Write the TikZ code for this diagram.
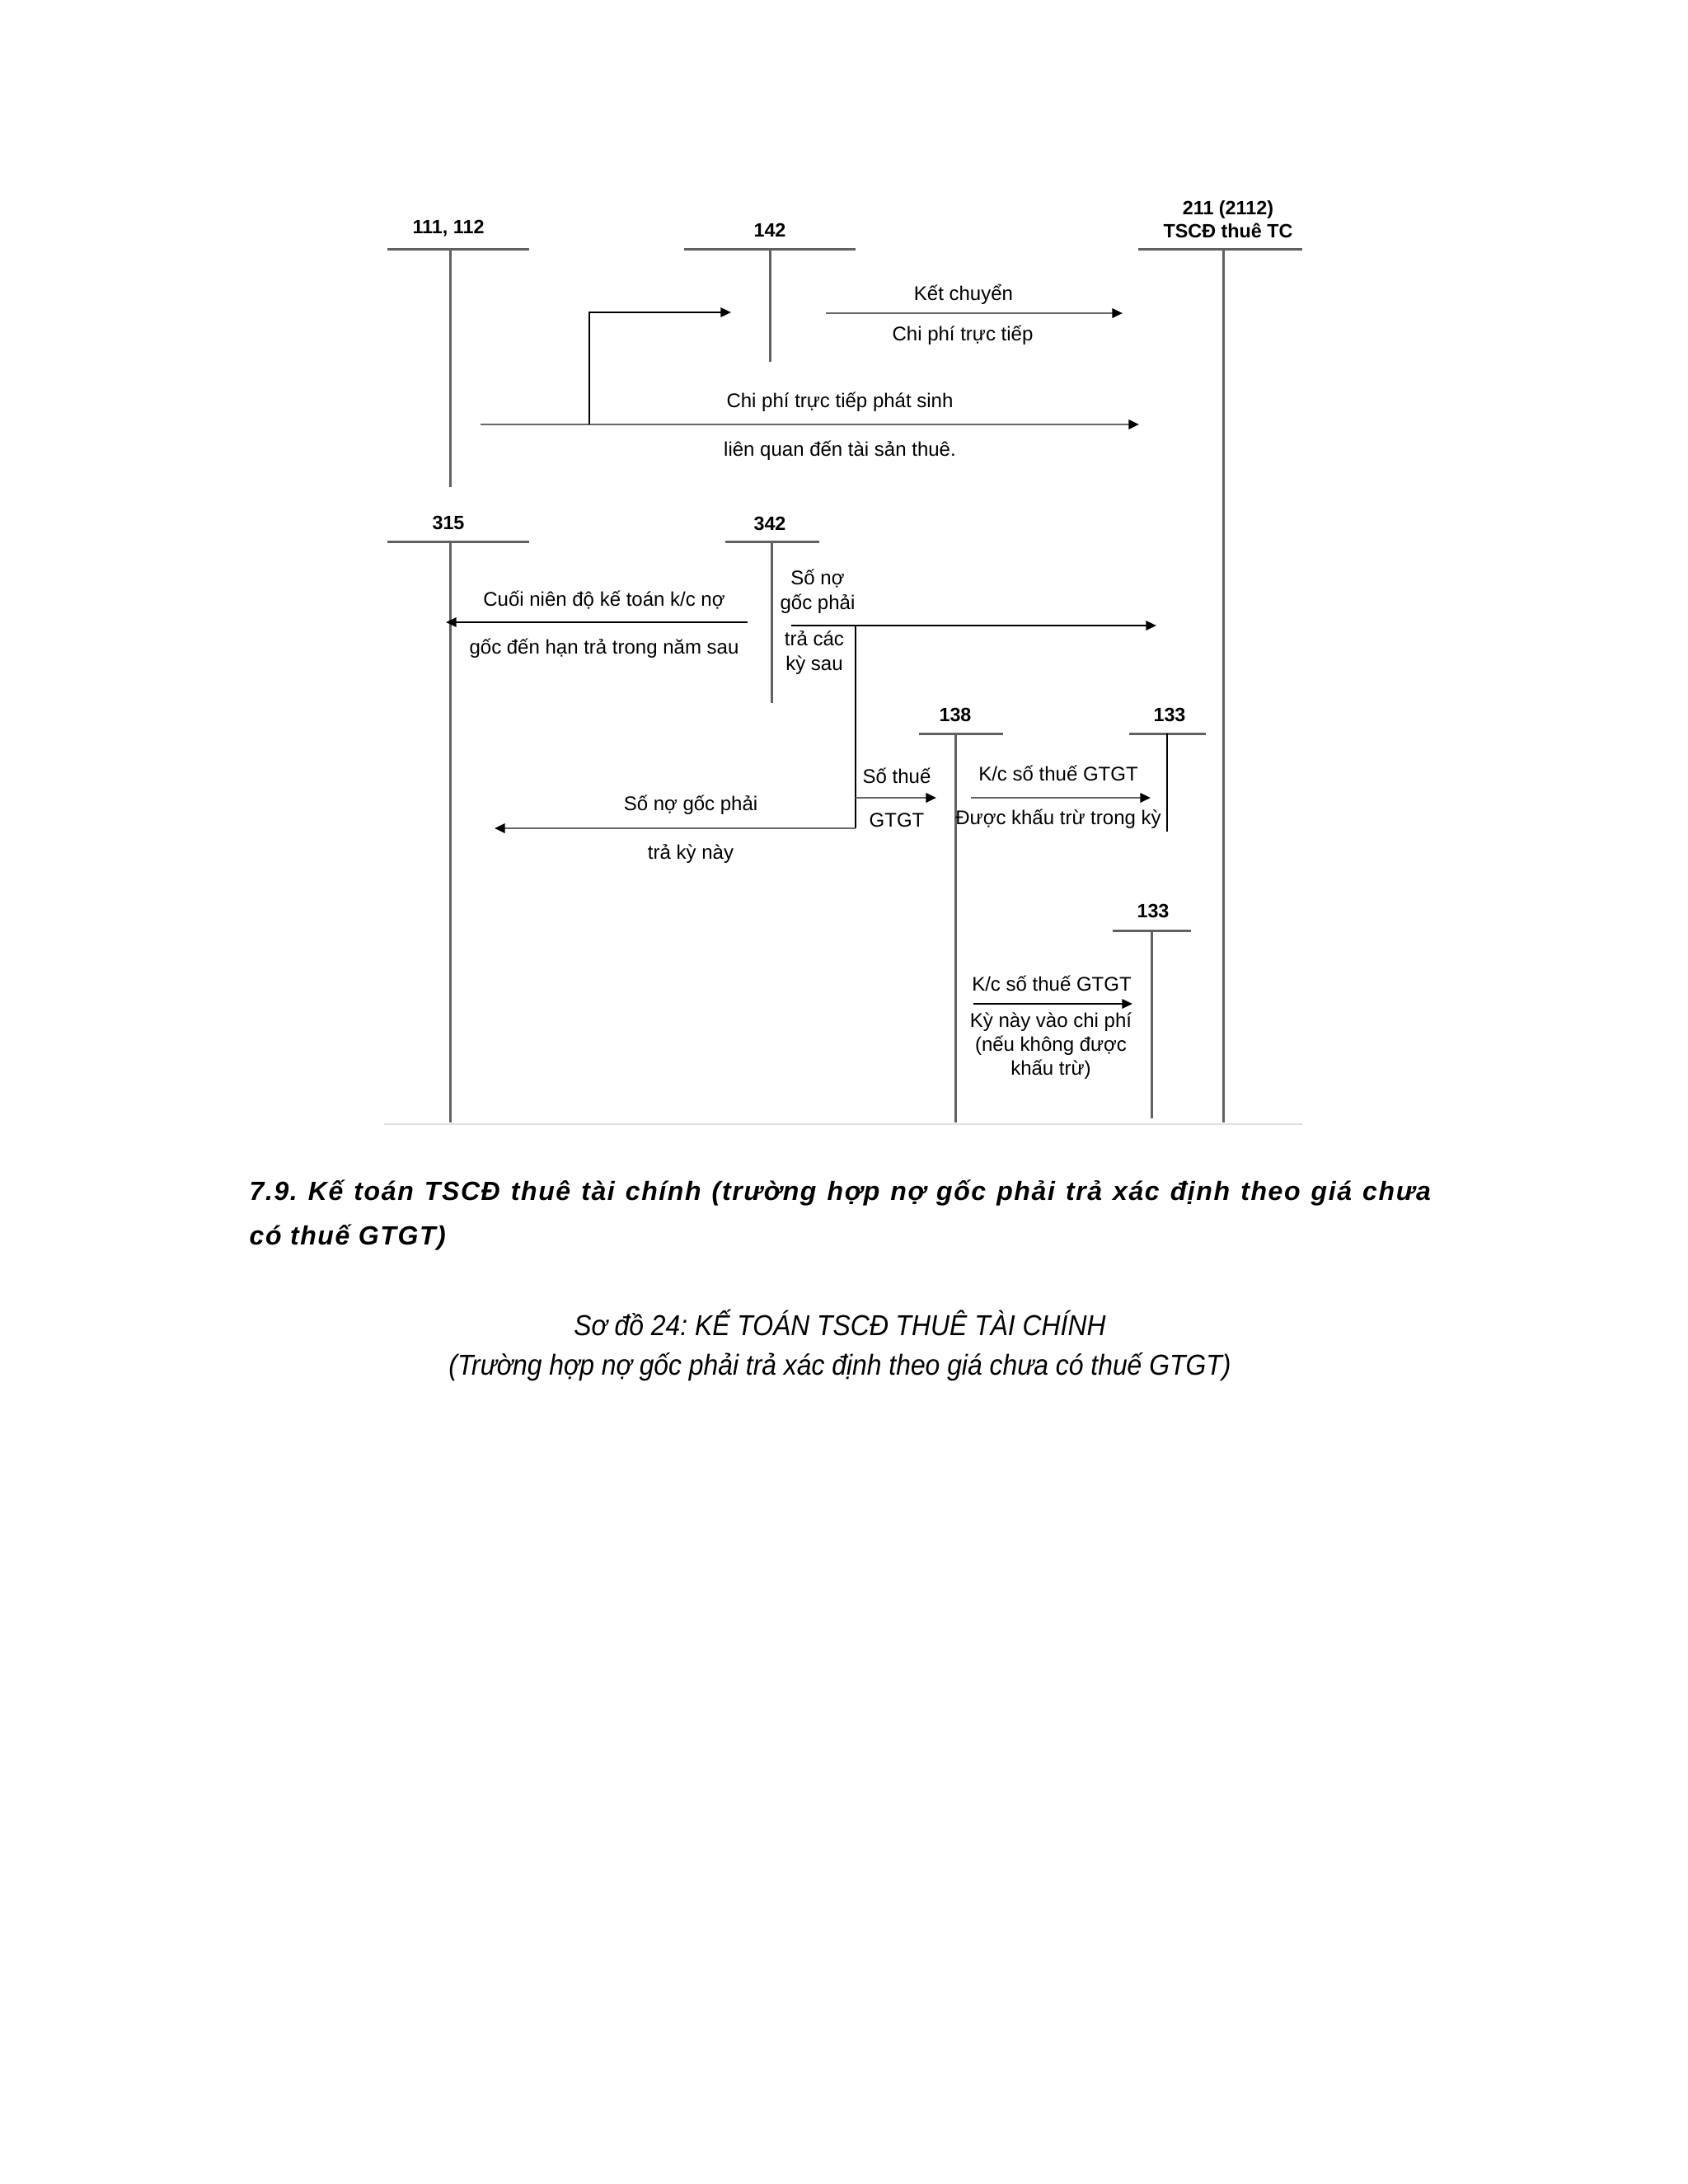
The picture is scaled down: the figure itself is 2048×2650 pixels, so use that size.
\documentclass[tikz,border=0pt]{standalone}
\usepackage{fontspec}
\setmainfont{Liberation Sans}
\newfontfamily\capfont[FakeStretch=0.91]{Liberation Sans}
\newfontfamily\headfont[LetterSpace=5]{Liberation Sans}
\usetikzlibrary{arrows.meta}
\frenchspacing
\begin{document}
\begin{tikzpicture}[x=0.3pt,y=-0.3pt,
  tacc/.style={draw=black!62, line width=0.9pt},
  blk/.style={draw=black, line width=0.7pt},
  gry/.style={draw=black!60, line width=0.8pt},
  tip/.style={-{Triangle[length=3.8pt,width=3.4pt,color=black]}},
  lbl/.style={font=\fontsize{7}{8.4}\selectfont\bfseries, inner sep=0pt, align=center},
  txt/.style={font=\fontsize{7.2}{9}\selectfont, inner sep=0pt, align=center}]
\useasboundingbox (0,0) rectangle (2048,2650);

% ---------- T accounts ----------
% 111, 112
\node[lbl] (l111) at (544,277) {111, 112};
\coordinate (b111L) at (470,302); \coordinate (b111R) at (642,302);
\coordinate (t111) at (546,302); \coordinate (e111) at (546,591);
\draw[tacc] (b111L) -- (b111R); \draw[tacc] (t111) -- (e111);
% 142
\node[lbl] (l142) at (934,279) {142};
\coordinate (b142L) at (830,302); \coordinate (b142R) at (1038,302);
\coordinate (t142) at (934,302); \coordinate (e142) at (934,439);
\draw[tacc] (b142L) -- (b142R); \draw[tacc] (t142) -- (e142);
% 211
\node[lbl] (l211) at (1490,266) {211 (2112)\\TSCĐ thuê TC};
\coordinate (b211L) at (1381,302); \coordinate (b211R) at (1580,302);
\coordinate (t211) at (1484,302); \coordinate (e211) at (1484,1362);
\draw[tacc] (b211L) -- (b211R); \draw[tacc] (t211) -- (e211);
% 315
\node[lbl] (l315) at (544,634) {315};
\coordinate (b315L) at (470,657); \coordinate (b315R) at (642,657);
\coordinate (t315) at (546,657); \coordinate (e315) at (546,1362);
\draw[tacc] (b315L) -- (b315R); \draw[tacc] (t315) -- (e315);
% 342
\node[lbl] (l342) at (934,635) {342};
\coordinate (b342L) at (880,657); \coordinate (b342R) at (994,657);
\coordinate (t342) at (936,657); \coordinate (e342) at (936,853);
\draw[tacc] (b342L) -- (b342R); \draw[tacc] (t342) -- (e342);
% 138
\node[lbl] (l138) at (1159,867) {138};
\coordinate (b138L) at (1115,890); \coordinate (b138R) at (1217,890);
\coordinate (t138) at (1159,890); \coordinate (e138) at (1159,1362);
\draw[tacc] (b138L) -- (b138R); \draw[tacc] (t138) -- (e138);
% 133 (a)
\node[lbl] (l133a) at (1419,867) {133};
\coordinate (b133aL) at (1370,890); \coordinate (b133aR) at (1463,890);
\coordinate (t133a) at (1416,890); \coordinate (e133a) at (1416,1009);
\draw[tacc] (b133aL) -- (b133aR); \draw[blk] (t133a) -- (e133a);
% 133 (b)
\node[lbl] (l133b) at (1399,1105) {133};
\coordinate (b133bL) at (1350,1129); \coordinate (b133bR) at (1445,1129);
\coordinate (t133b) at (1397,1129); \coordinate (e133b) at (1397,1357);
\draw[tacc] (b133bL) -- (b133bR); \draw[tacc] (t133b) -- (e133b);

% ---------- connectors ----------
% Chi phi truc tiep phat sinh
\coordinate (cpS) at (583,515); \coordinate (cpE) at (1382,515);
\draw[gry,tip] (cpS) -- (cpE);
\node[txt] (cp1) at (1019,488) {Chi phí trực tiếp phát sinh};
\node[txt] (cp2) at (1019,547) {liên quan đến tài sản thuê.};
% elbow to 142
\coordinate (elJ) at (715,515); \coordinate (elE) at (887,379);
\draw[blk,tip] (elJ) |- (elE);
% Ket chuyen
\coordinate (kcS) at (1002,380); \coordinate (kcE) at (1362,380);
\draw[gry,tip] (kcS) -- (kcE);
\node[txt] (kc1) at (1169,357) {Kết chuyển};
\node[txt] (kc2) at (1168,407) {Chi phí trực tiếp};
% 342 -> 315
\coordinate (cnS) at (907,755); \coordinate (cnE) at (541,755);
\draw[blk,tip] (cnS) -- (cnE);
\node[txt] (cn1) at (733,728) {Cuối niên độ kế toán k/c nợ};
\node[txt] (cn2) at (733,787) {gốc đến hạn trả trong năm sau};
% so no goc phai tra cac ky sau
\coordinate (snS) at (960,759); \coordinate (snE) at (1403,759);
\coordinate (snJ) at (1038,759); \coordinate (snB) at (1038,1005);
\draw[blk,tip] (snS) -- (snE);
\draw[blk] (snJ) -- (snB);
\node[txt] (sn1) at (992,718) {Số nợ\\gốc phải};
\node[txt] (sn2) at (988,792) {trả các\\kỳ sau};
% so no goc phai tra ky nay
\coordinate (knE) at (600,1005);
\draw[gry,tip] (snB) -- (knE);
\node[txt] (kn1) at (838,977) {Số nợ gốc phải};
\node[txt] (kn2) at (838,1036) {trả kỳ này};
% so thue GTGT -> 138
\coordinate (stJ) at (1038,968); \coordinate (stE) at (1136,968);
\draw[gry,tip] (stJ) -- (stE);
\node[txt] (st1) at (1088,941) {Số thuế};
\node[txt] (st2) at (1088,995) {GTGT};
% 138 -> 133a
\coordinate (k1S) at (1178,968); \coordinate (k1E) at (1396,968);
\draw[gry,tip] (k1S) -- (k1E);
\node[txt] (k11) at (1284,938) {K/c số thuế GTGT};
\node[txt] (k12) at (1284,994) {Được khấu trừ trong kỳ};
% 138 -> 133b
\coordinate (k2S) at (1181,1218); \coordinate (k2E) at (1374,1218);
\draw[blk,tip] (k2S) -- (k2E);
\node[txt] (k21) at (1276,1193) {K/c số thuế GTGT};
\node[txt, font=\fontsize{7.2}{8.7}\selectfont] (k22) at (1275,1269) {Kỳ này vào chi phí\\(nếu không được\\khấu trừ)};

% faint image border
\draw[black!12, line width=0.5pt] (466,1364) -- (1580,1364);

% ---------- text below ----------
\node[anchor=west, inner sep=0pt, font=\headfont\fontsize{9.6}{12}\selectfont\bfseries\itshape] (h1) at (302,1448)
  {\hbox to 430pt{7.9. Kế toán TSCĐ thuê tài chính (trường hợp nợ gốc phải trả xác định theo giá chưa}};
\node[anchor=west, inner sep=0pt, font=\headfont\fontsize{9.6}{12}\selectfont\bfseries\itshape] (h2) at (302,1502)
  {có thuế GTGT)};
\node[inner sep=0pt, font=\capfont\fontsize{10.5}{12}\selectfont\itshape] (c1) at (1019,1605)
  {Sơ đồ 24: KẾ TOÁN TSCĐ THUÊ TÀI CHÍNH};
\node[inner sep=0pt, font=\capfont\fontsize{10.5}{12}\selectfont\itshape] (c2) at (1019,1659)
  {(Trường hợp nợ gốc phải trả xác định theo giá chưa có thuế GTGT)};
\end{tikzpicture}
\end{document}
